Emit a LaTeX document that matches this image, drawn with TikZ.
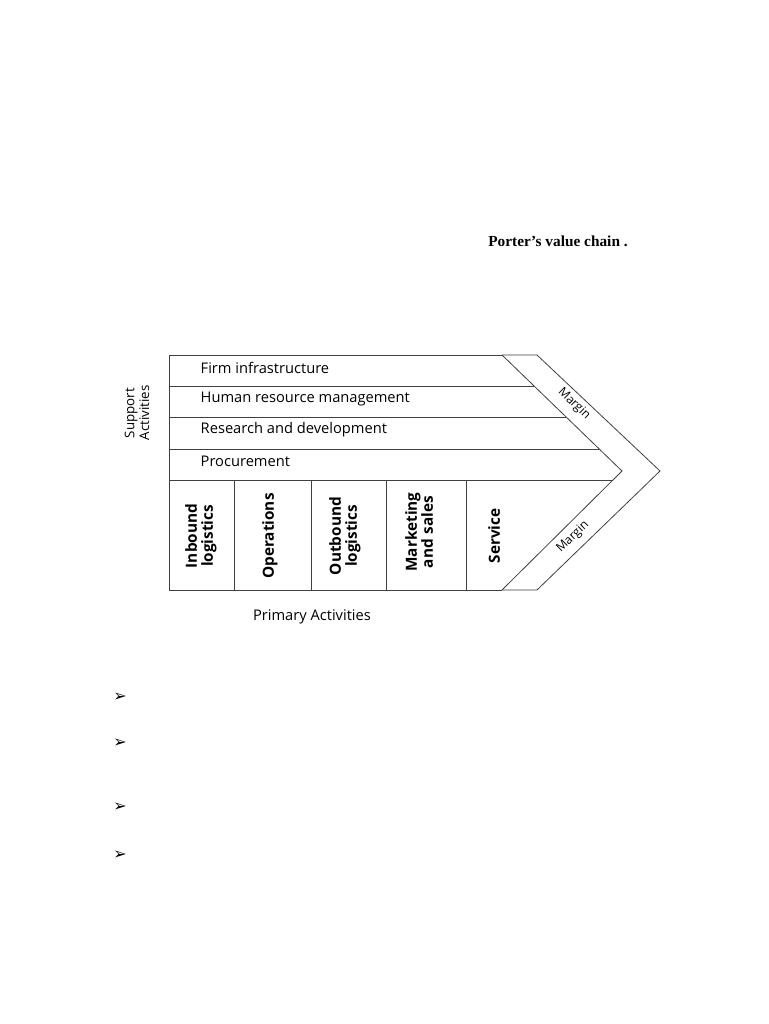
\documentclass[tikz,border=0pt]{standalone}
\usepackage{fontspec}
\setmainfont{Liberation Serif}
\newfontfamily\dg{DejaVu Sans}
\newfontfamily\ds{Open Sans}
\begin{document}
\begin{tikzpicture}[x=0.75pt,y=-0.75pt,
  ln/.style={draw=black!75,line width=0.6pt},
  band/.style={anchor=west,font=\ds\fontsize{11}{12}\selectfont},
  col/.style={rotate=90,align=center,font=\ds\bfseries\fontsize{11.5}{12}\selectfont,text width=85pt,inner sep=0pt},
  mg/.style={font=\ds\fontsize{9}{10}\selectfont,inner sep=0pt},
  blt/.style={font=\dg\fontsize{12}{13}\selectfont}]
\useasboundingbox (0,0) rectangle (768,1024);
\fill[white] (0,0) rectangle (768,1024);
\node[font=\bfseries\fontsize{11.5}{13}\selectfont] (title) at (558,241) {Porter’s value chain .};
\coordinate (tl) at (169,355);
\coordinate (bl) at (169,590);
\coordinate (otr) at (537,355);
\coordinate (otip) at (660,471);
\coordinate (obr) at (537,590);
\coordinate (itr) at (502,355);
\coordinate (itip) at (622,471);
\coordinate (ibr) at (502,590);
\draw[ln] (itr) -- (tl) -- (bl) -- (ibr);
\draw[ln] (itr) -- (otr) -- (otip) -- (obr) -- (ibr);
\draw[ln] (itr) -- (itip) -- (ibr);
\foreach \y in {386,417,449}{\draw[ln] (169,\y) -- ({502+(\y-355)*120/116},\y);}
\draw[ln] (169,480) -- ({622-(480-471)*120/119},480);
\foreach \x in {234,311,386,466}{\draw[ln] (\x,480) -- (\x,590);}
\node[band] (b1) at (196,368) {Firm infrastructure};
\node[band] (b2) at (196,399) {Human resource management};
\node[band] (b3) at (196,430) {Research and development};
\node[band] (b4) at (196,461) {Procurement};
\node[col] (c1) at (201,536) {Inbound\\logistics};
\node[col] (c2) at (270,536) {Operations};
\node[col] (c3) at (345,536) {Outbound\\logistics};
\node[col] (c4) at (419,532) {Marketing\\and sales};
\node[col] (c5) at (494,536) {Service};
\node[mg,rotate=-44] (m1) at (574,404) {Margin};
\node[mg,rotate=44] (m2) at (573,537) {Margin};
\node[font=\ds\fontsize{10}{11}\selectfont,rotate=90,align=center] (sa) at (137,413) {Support\\Activities};
\node[font=\ds\fontsize{11}{12}\selectfont] (pa) at (312,617) {Primary Activities};
\foreach \y in {697,743,807,855}{\node[blt] at (120,\y) {➢};}
\end{tikzpicture}
\end{document}
